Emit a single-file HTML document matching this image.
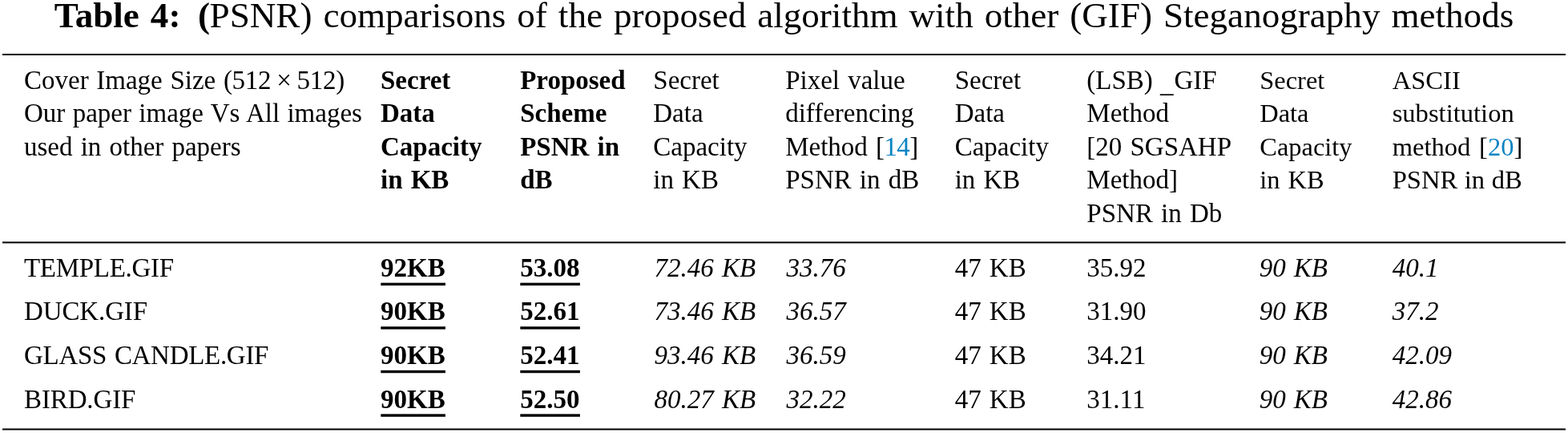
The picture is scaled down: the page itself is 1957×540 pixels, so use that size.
<!DOCTYPE html>
<html lang="en">
<head>
<meta charset="utf-8">
<title>Table 4</title>
<style>
html,body{margin:0;padding:0;background:#fff;}
body{width:1957px;height:540px;position:relative;overflow:hidden;font-family:"Liberation Serif","Times New Roman",serif;color:#000;}
.title{position:absolute;left:0;top:-7.6px;width:1957px;text-align:center;font-size:45.1px;word-spacing:2.7px;line-height:54px;white-space:pre;letter-spacing:0;}
.title b{font-weight:bold;}
.rules{position:absolute;left:0;top:0;}
table{position:absolute;left:3px;top:69px;width:1951px;border-collapse:collapse;table-layout:fixed;}
th,td{padding:0;text-align:left;vertical-align:top;font-weight:normal;font-size:33px;word-spacing:1.9px;white-space:nowrap;}
thead th{line-height:41.5px;padding-top:10.65px;height:237.7px;box-sizing:border-box;}
tbody td{line-height:54.63px;height:54.63px;}
.b{font-weight:bold;}
.u{text-decoration:none;}
.x{letter-spacing:-0.25px;word-spacing:-1.1px;}
.i{font-style:italic;}
.j{padding-left:1.3px;}
a{color:#0b84c3;text-decoration:none;}
</style>
</head>
<body>
<div class="title"><b>Table 4:<span style="word-spacing:-0.45px">  </span>(</b><span style="margin-left:-0.5px">PSNR)</span> comparisons of the proposed algorithm with other (GIF) Steganography methods</div>
<svg class="rules" width="1957" height="540" viewBox="0 0 1957 540"><rect x="3" y="67" width="1951" height="2" fill="#000"/><rect x="3" y="301.4" width="1951" height="2" fill="#000"/><rect x="3" y="534.4" width="1951" height="2" fill="#000"/><rect x="475.3" y="352.70" width="80.6" height="3.4" fill="#000"/><rect x="649.3" y="352.70" width="74.6" height="3.4" fill="#000"/><rect x="475.3" y="407.25" width="80.6" height="3.4" fill="#000"/><rect x="649.3" y="407.25" width="74.6" height="3.4" fill="#000"/><rect x="475.3" y="461.80" width="80.6" height="3.4" fill="#000"/><rect x="649.3" y="461.80" width="74.6" height="3.4" fill="#000"/><rect x="475.3" y="516.35" width="80.6" height="3.4" fill="#000"/><rect x="649.3" y="516.35" width="74.6" height="3.4" fill="#000"/></svg>
<table>
<colgroup>
<col style="width:27px"><col style="width:445px"><col style="width:174.2px"><col style="width:166.1px"><col style="width:164.9px"><col style="width:211.5px"><col style="width:164.7px"><col style="width:215.3px"><col style="width:166px"><col>
</colgroup>
<thead>
<tr>
<th></th>
<th><span style="word-spacing:1.4px">Cover Image Size </span><span class="x">(512 × 512)</span><br><span style="word-spacing:1.1px">Our paper image Vs All images</span><br>used in other papers</th>
<th class="b"><span>Secret<br>Data<br>Capacity<br>in KB</span></th>
<th class="b"><span>Proposed<br>Scheme<br>PSNR in<br>dB</span></th>
<th>Secret<br>Data<br>Capacity<br>in KB</th>
<th>Pixel value<br>differencing<br>Method <span style="letter-spacing:-0.6px">[<a>14</a>]</span><br>PSNR in dB</th>
<th>Secret<br>Data<br>Capacity<br>in KB</th>
<th>(LSB) <span style="position:relative;top:4.6px;left:-1px">_</span>GIF<br>Method<br>[20 SGSAHP<br>Method]<br>PSNR in Db</th>
<th style="padding-left:0.7px"><span style="font-size:32.4px">Secret<br>Data<br>Capacity<br>in KB</span></th>
<th><span style="font-size:32.6px;word-spacing:0.5px">ASCII<br>substitution<br><span style="word-spacing:2.6px">method [<a>20</a>]</span><br>PSNR in dB</span></th>
</tr>
</thead>
<tbody>
<tr><td></td><td style="letter-spacing:-0.3px">TEMPLE.GIF</td><td class="b"><span class="u">92KB</span></td><td class="b"><span class="u">53.08</span></td><td class="i j">72.46 KB</td><td class="i j">33.76</td><td>47 KB</td><td>35.92</td><td class="i">90 KB</td><td class="i">40.1</td></tr>
<tr><td></td><td style="letter-spacing:-0.12px">DUCK.GIF</td><td class="b"><span class="u">90KB</span></td><td class="b"><span class="u">52.61</span></td><td class="i j">73.46 KB</td><td class="i j">36.57</td><td>47 KB</td><td>31.90</td><td class="i">90 KB</td><td class="i">37.2</td></tr>
<tr><td></td><td style="letter-spacing:-0.3px">GLASS CANDLE.GIF</td><td class="b"><span class="u">90KB</span></td><td class="b"><span class="u">52.41</span></td><td class="i j">93.46 KB</td><td class="i j">36.59</td><td>47 KB</td><td>34.21</td><td class="i">90 KB</td><td class="i">42.09</td></tr>
<tr><td></td><td style="letter-spacing:-0.12px">BIRD.GIF</td><td class="b"><span class="u">90KB</span></td><td class="b"><span class="u">52.50</span></td><td class="i j">80.27 KB</td><td class="i j">32.22</td><td>47 KB</td><td>31.11</td><td class="i">90 KB</td><td class="i">42.86</td></tr>
</tbody>
</table>
</body>
</html>
